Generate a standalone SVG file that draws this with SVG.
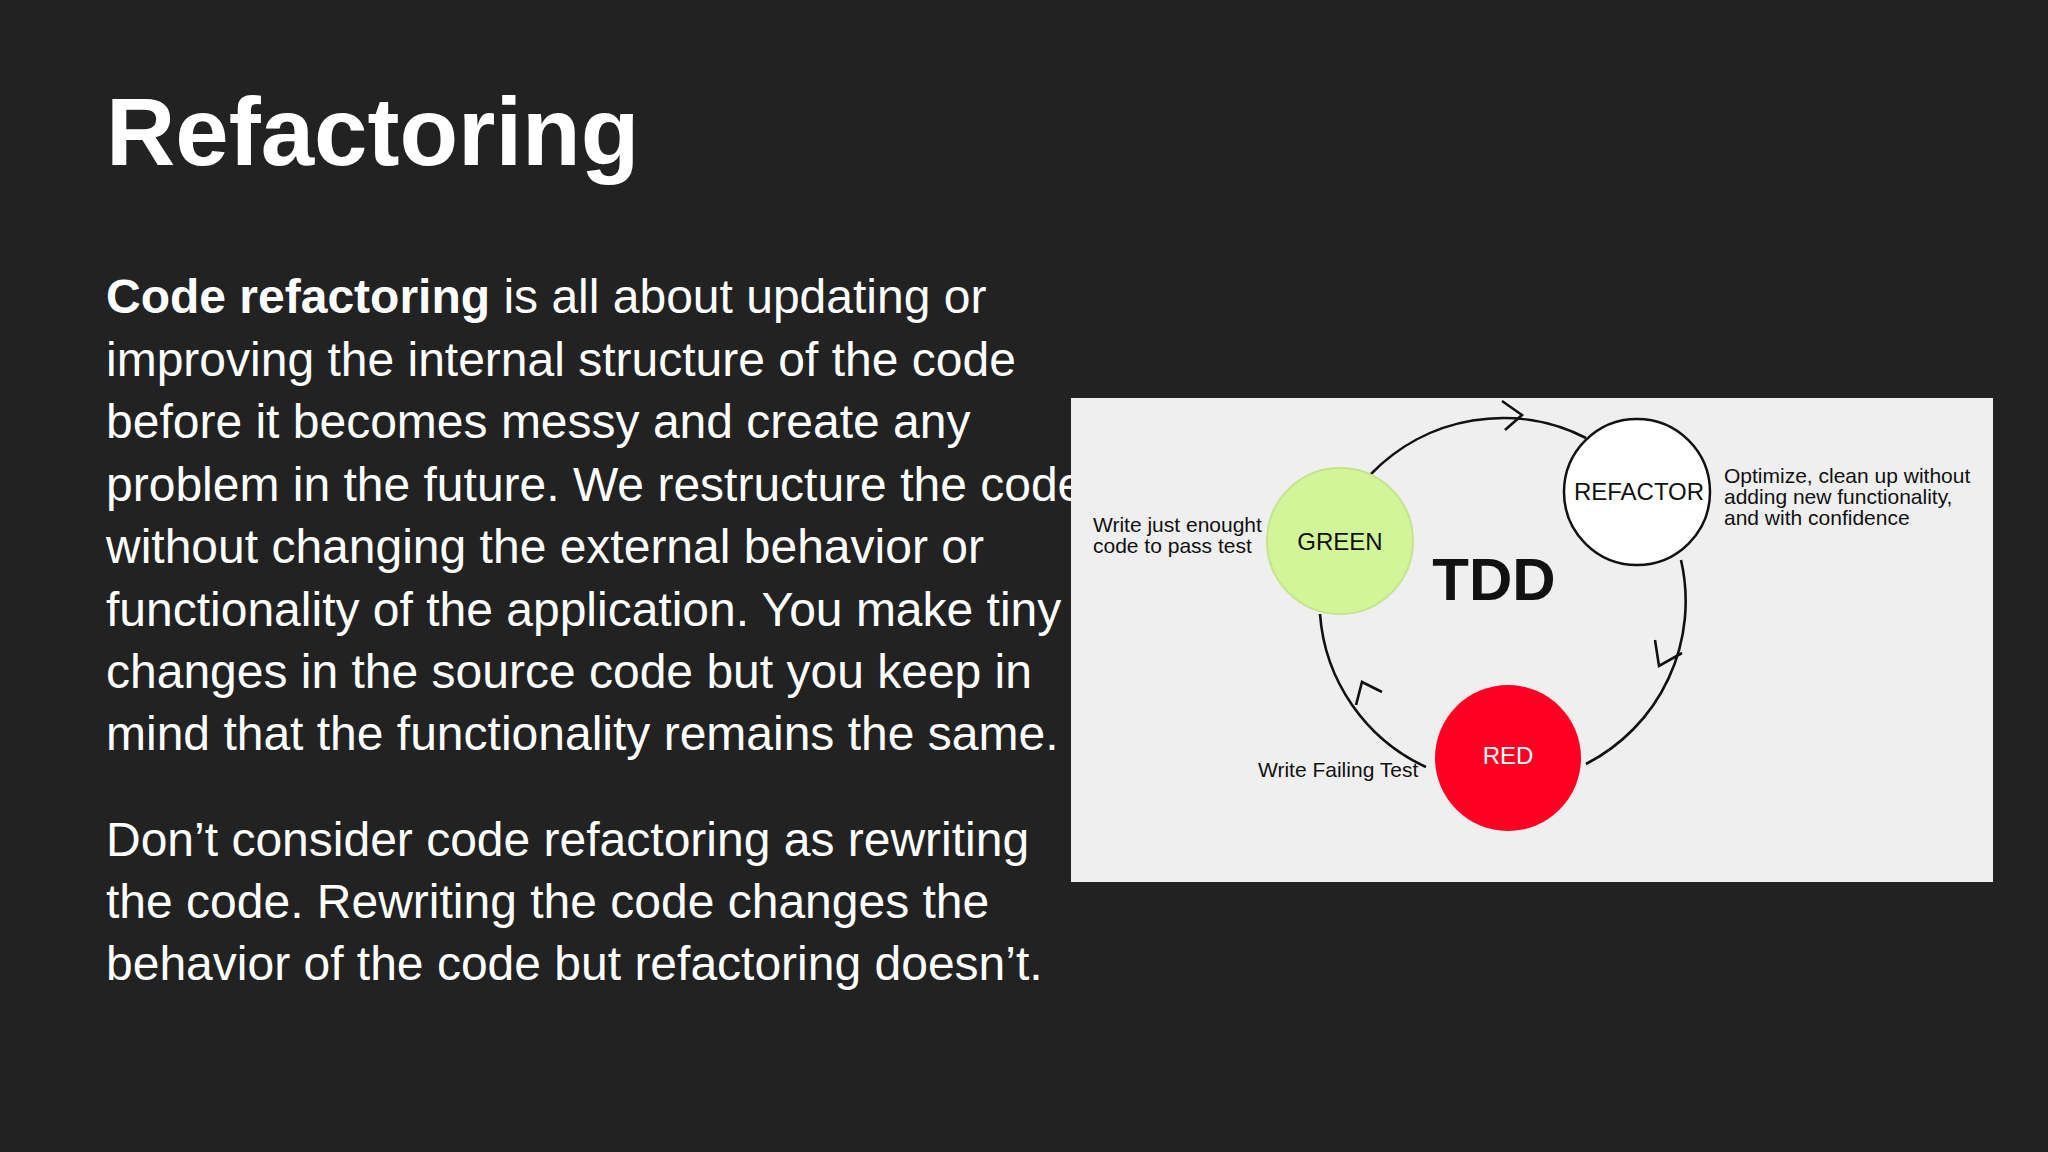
<svg xmlns="http://www.w3.org/2000/svg" width="2048" height="1152" viewBox="0 0 2048 1152">
<style>
.t{font-family:"Liberation Sans",Arial,sans-serif;fill:#fff}
.b{font-size:48px}
.s{font-family:"Liberation Sans",Arial,sans-serif;font-size:21px;fill:#111}
.n{font-family:"Liberation Sans",Arial,sans-serif;font-size:24px;text-anchor:middle}
.c{fill:none;stroke:#111;stroke-width:2.6}
</style>
<rect width="2048" height="1152" fill="#222223"/>
<text class="t" x="106" y="165" font-size="96" font-weight="bold">Refactoring</text>
<g class="t b">
<text x="106" y="313"><tspan font-weight="bold">Code refactoring</tspan> is all about updating or</text>
<text x="106" y="376">improving the internal structure of the code</text>
<text x="106" y="438">before it becomes messy and create any</text>
<text x="106" y="501">problem in the future. We restructure the code</text>
<text x="106" y="563">without changing the external behavior or</text>
<text x="106" y="626">functionality of the application. You make tiny</text>
<text x="106" y="688">changes in the source code but you keep in</text>
<text x="106" y="750">mind that the functionality remains the same.</text>
<text x="106" y="856">Don’t consider code refactoring as rewriting</text>
<text x="106" y="918">the code. Rewriting the code changes the</text>
<text x="106" y="980">behavior of the code but refactoring doesn’t.</text>
</g>
<rect x="1071" y="398" width="922" height="484" fill="#efefef"/>
<g id="connectors">
<path class="c" d="M1371 474 A183 183 0 0 1 1586 438"/>
<polyline class="c" points="1502,401 1522,415 1505,430"/>
<path class="c" d="M1681 560 A183 183 0 0 1 1586 764"/>
<polyline class="c" points="1655,640 1659,666 1682,653"/>
<path class="c" d="M1426 767 A183 183 0 0 1 1320 614"/>
<polyline class="c" points="1356,705 1362,682 1382,692"/>
</g>
<g id="green"><circle cx="1340" cy="541" r="73" fill="#d2f59a" stroke="#c4e48c" stroke-width="2"/><text class="n" x="1340" y="550" fill="#111">GREEN</text></g>
<g id="refactor"><circle cx="1637" cy="492" r="73" fill="#fff" stroke="#111" stroke-width="2.5"/><text class="n" x="1639" y="500" fill="#111">REFACTOR</text></g>
<g id="red"><circle cx="1508" cy="758" r="73" fill="#ff0022"/><text class="n" x="1508" y="764" fill="#fff">RED</text></g>
<text x="1494" y="600" font-family="Liberation Sans,Arial,sans-serif" font-size="60" font-weight="bold" text-anchor="middle" fill="#111">TDD</text>
<text class="s" x="1093" y="532">Write just enought</text>
<text class="s" x="1093" y="553">code to pass test</text>
<text class="s" x="1724" y="483">Optimize, clean up without</text>
<text class="s" x="1724" y="504">adding new functionality,</text>
<text class="s" x="1724" y="525">and with confidence</text>
<text class="s" x="1258" y="777">Write Failing Test</text>
</svg>
